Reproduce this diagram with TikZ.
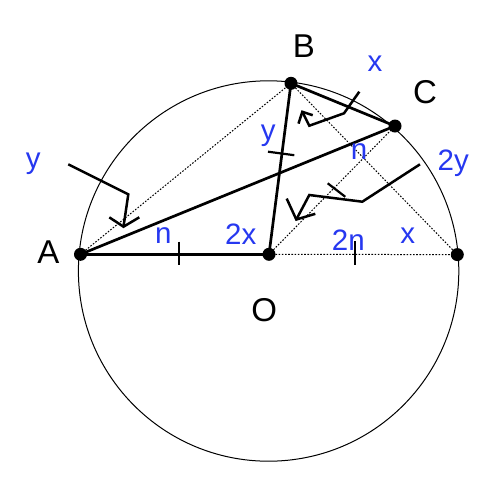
\documentclass[tikz,border=0pt]{standalone}
\usepackage{fontspec}
\setmainfont{Liberation Sans}
\definecolor{lblblue}{RGB}{38,56,240}
\tikzset{
  thickline/.style={line width=2.7pt, line cap=round, line join=round},
  dotline/.style={line width=1pt, dash pattern=on 1.6pt off 1.6pt},
  thinline/.style={line width=1pt},
  tickline/.style={line width=2.2pt},
  handarrow/.style={line width=2.5pt, line join=miter},
  ptdot/.style={circle, fill=black, inner sep=0pt, minimum size=13pt},
  ptlabel/.style={font=\fontsize{33}{38}\selectfont, text=black, inner sep=0pt},
  vallabel/.style={font=\fontsize{29.5}{34}\selectfont, text=lblblue, inner sep=0pt}
}
\begin{document}
\begin{tikzpicture}[x=1pt,y=-1pt]
\useasboundingbox (0,0) rectangle (495,483);
% points
\coordinate (A) at (80.5,254.3);
\coordinate (O) at (269,254.3);
\coordinate (R) at (457.3,254.6);
\coordinate (B) at (291,83.3);
\coordinate (C) at (395,126);
\coordinate (M) at (268.6,271);
% circle
\draw[thinline] (M) circle[radius=190.2];
% dotted chords
\draw[dotline] (A) -- (B);
\draw[dotline] (O) -- (C);
\draw[dotline] (B) -- (R);
\draw[dotline] (O) -- (R);
% solid lines
\draw[thickline] (A) -- (O);
\draw[thickline] (A) -- (C);
\draw[thickline] (B) -- (O);
\draw[thickline] (B) -- (C);
% tick marks
\draw[tickline] (179,241.5) -- (179,264.5);
\draw[tickline] (355,241) -- (355,264.5);
\draw[tickline] (268,151.7) -- (294.3,155.2);
\draw[tickline] (327.7,183.3) -- (345.3,196.8);
% hand-drawn arrows
\draw[handarrow] (68.3,164.3) -- (128.3,194.3) -- (123.6,226);
\draw[handarrow] (109.3,217.3) -- (123.5,226.7) -- (139.3,217.3);
\draw[handarrow] (359.3,91.7) -- (344,113.3) -- (309.3,125.7) -- (302.3,111.8);
\draw[handarrow] (298.5,123.6) -- (302.3,111.8) -- (312.7,115.2);
\draw[handarrow] (420,164.3) -- (362.3,201.7) -- (309.3,195) -- (296.3,219.5);
\draw[handarrow] (286.7,198.6) -- (296.3,219.5) -- (315.3,213.8);
% dots
\node[ptdot] (dA) at (A) {};
\node[ptdot] (dO) at (O) {};
\node[ptdot] (dR) at (R) {};
\node[ptdot] (dB) at (B) {};
\node[ptdot] (dC) at (C) {};
% point labels
\node[ptlabel] (lB) at (304,46.5) {B};
\node[ptlabel] (lC) at (425,91.7) {C};
\node[ptlabel] (lA) at (48.3,251.7) {A};
\node[ptlabel] (lO) at (264.3,310) {O};
% value labels
\node[vallabel, anchor=base] (vx1) at (375,71) {x};
\node[vallabel, anchor=base] (vy1) at (33.3,168.5) {y};
\node[vallabel, anchor=base] (vy2) at (268.3,140) {y};
\node[vallabel, anchor=base] (vn1) at (359,159) {n};
\node[vallabel, anchor=base] (v2y) at (453.3,170.5) {2y};
\node[vallabel, anchor=base] (vn2) at (163.3,243) {n};
\node[vallabel, anchor=base] (v2x) at (240.7,244) {2x};
\node[vallabel, anchor=base] (v2n) at (348.3,250) {2n};
\node[vallabel, anchor=base] (vx2) at (407.7,243.5) {x};
\end{tikzpicture}
\end{document}
